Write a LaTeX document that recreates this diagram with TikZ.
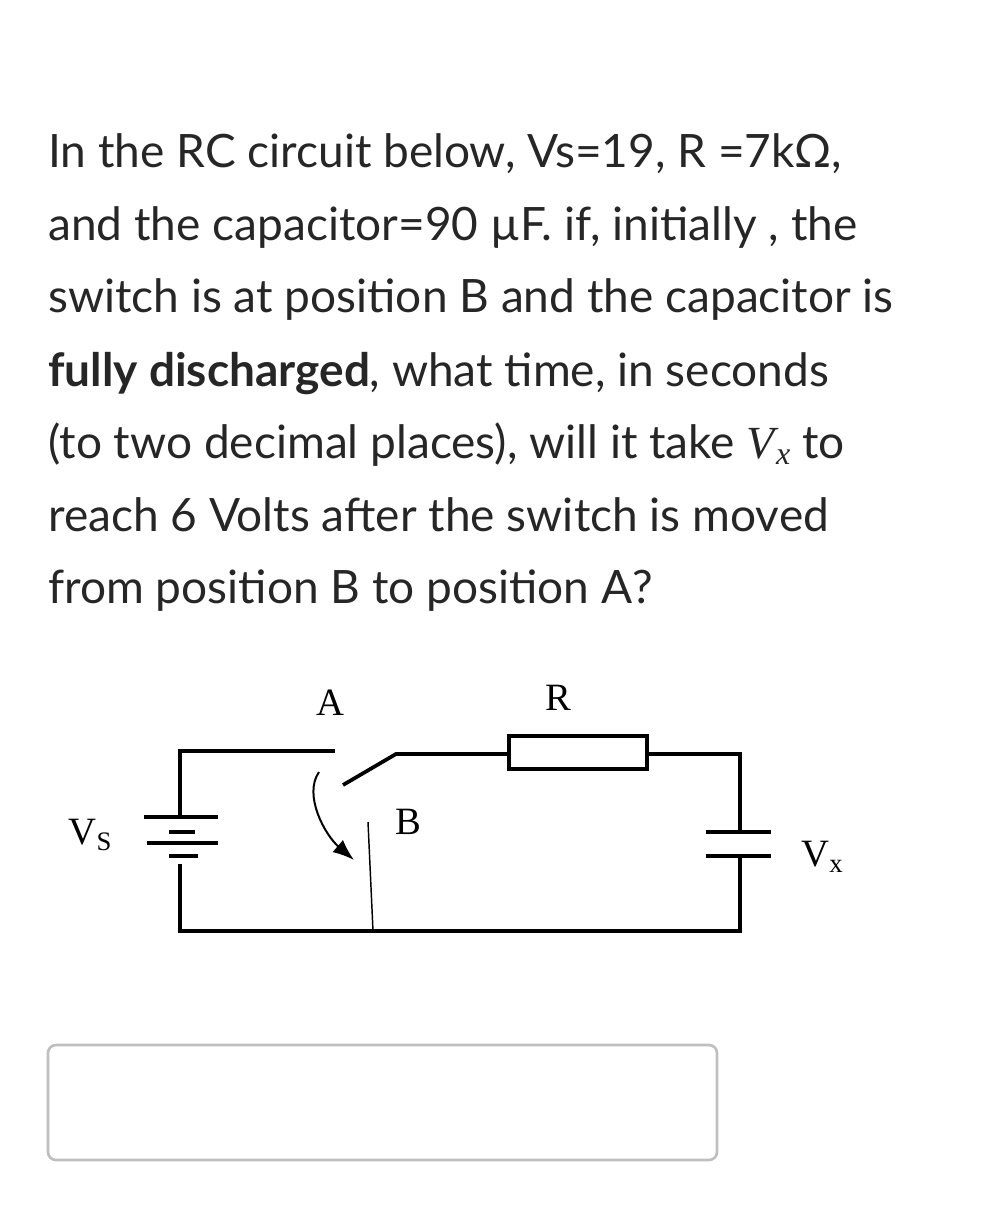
\documentclass[tikz,border=0pt]{standalone}
\usepackage{fontspec}
\setmainfont{Lato}
\newfontfamily\lbl{Liberation Serif}
\usetikzlibrary{arrows.meta}
\begin{document}
\begin{tikzpicture}[x=0.75pt,y=-0.75pt,
  txt/.style={anchor=base west,inner sep=0pt,font=\fontsize{34.5}{40}\selectfont,text=black!85},
  lab/.style={inner sep=0pt,font=\lbl\fontsize{29}{32}\selectfont},
  wire/.style={line width=2.8pt},
  thin/.style={line width=1.1pt}]
\useasboundingbox (0,0) rectangle (981,1230);
\node[txt] (l1) at (48,168) {In the RC circuit below, Vs=19, R =7kΩ,};
\node[txt] (l2) at (48,241) {and the capacitor=90 µF. if, initially , the};
\node[txt] (l3) at (48,313) {switch is at position B and the capacitor is};
\node[txt] (l4) at (48,386) {\textbf{fully discharged}, what time, in seconds};
\node[txt] (l5) at (48,458) {(to two decimal places), will it take {\lbl\itshape V\kern1pt\raisebox{-0.3ex}{\fontsize{24}{26}\selectfont x}} to};
\node[txt] (l6) at (48,531) {reach 6 Volts after the switch is moved};
\node[txt] (l7) at (48,603) {from position B to position A?};
% circuit
\draw[wire] (335,751) -- (180,751) -- (180,817);
\draw[wire] (144,817) -- (218,817);
\draw[wire] (169,832) -- (195,832);
\draw[wire] (147,843) -- (218,843);
\draw[wire] (169,856) -- (198,856);
\draw[wire] (180,864) -- (180,931) -- (740,931) -- (740,856);
\draw[wire] (706,832) -- (771,832);
\draw[wire] (706,856) -- (771,856);
\draw[wire] (343,785) -- (396,754) -- (509,754);
\draw[wire] (509,736) rectangle (647,769);
\draw[wire] (647,754) -- (740,754) -- (740,832);
\draw[thin] (368,822) -- (373,931);
\draw[line width=1.5pt,-{Latex[length=16pt,width=12pt]}] (319,772) .. controls (303,795) and (325,835) .. (354,860);
\node[lab] (A) at (330,703) {A};
\node[lab] (R) at (558,698) {R};
\node[lab] (B) at (408,822) {B};
\node[lab] (Vs) at (90,835) {V\raisebox{-0.35ex}{\fontsize{20}{22}\selectfont S}};
\node[lab] (Vx) at (822,857) {V\raisebox{-0.35ex}{\fontsize{20}{22}\selectfont x}};
\draw[black!25,line width=2pt,rounded corners=6pt] (48,1045) rectangle (717,1160);
\end{tikzpicture}
\end{document}
